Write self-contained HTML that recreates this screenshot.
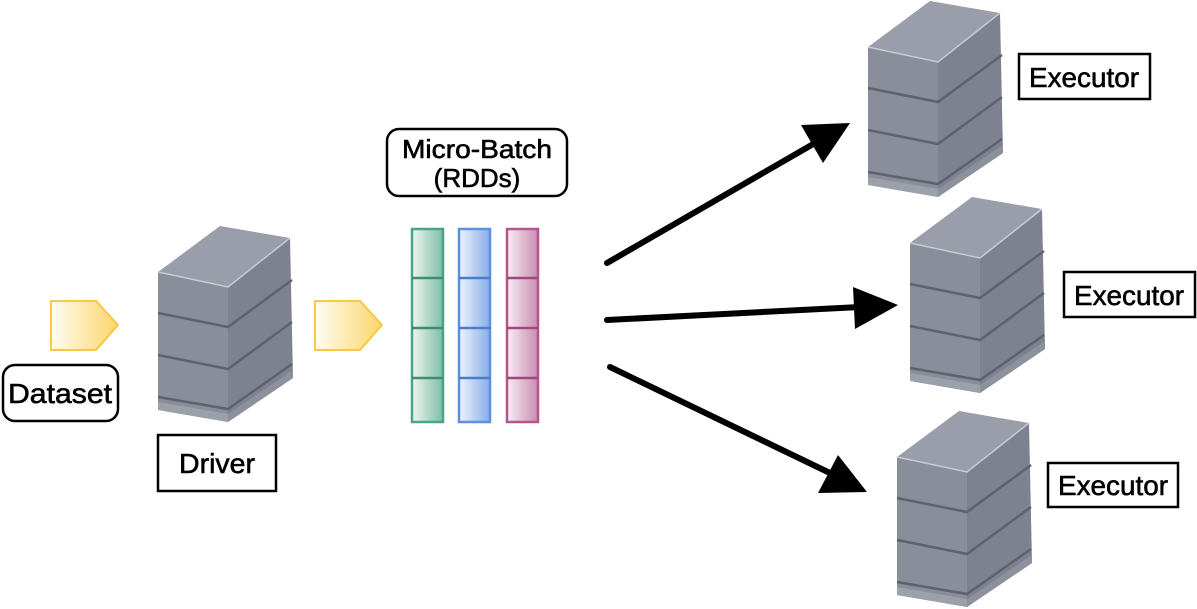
<!DOCTYPE html>
<html><head><meta charset="utf-8"><style>
html,body{margin:0;padding:0;background:#fff;width:1197px;height:609px;overflow:hidden}
text{font-family:"Liberation Sans",Arial,sans-serif;fill:#000;stroke:#000;stroke-width:0.6px}
</style></head><body>
<svg width="1197" height="609" viewBox="0 0 1197 609" xmlns="http://www.w3.org/2000/svg">
<defs>
<linearGradient id="yel" x1="0" x2="1" y1="0" y2="0"><stop offset="0" stop-color="#fffdf3"/><stop offset="1" stop-color="#fcd56a"/></linearGradient>
<linearGradient id="gr" x1="0" x2="1"><stop offset="0" stop-color="#eef7f3"/><stop offset="1" stop-color="#7dbda5"/></linearGradient>
<linearGradient id="bl" x1="0" x2="1"><stop offset="0" stop-color="#eef4fd"/><stop offset="1" stop-color="#87aee8"/></linearGradient>
<linearGradient id="pk" x1="0" x2="1"><stop offset="0" stop-color="#f8eef4"/><stop offset="1" stop-color="#c98cb0"/></linearGradient>
<g id="srv">
<polygon points="0,46 70,61 132,12 62,0" fill="#9a9eaa"/>
<polygon points="0,46 70,61 70,196 0,184" fill="#8a8e9b"/>
<polygon points="70,61 132,12 135,152 70,196" fill="#7e8290"/>
<polygon points="0,176 70,188 70,196 0,184" fill="#9ca0ab"/>
<polygon points="70,188 135,144 135,152 70,196" fill="#8d919c"/>
<polyline points="0,46 70,61 132,12" fill="none" stroke="#c8cbd2" stroke-width="1.5"/>
<g stroke="#5e626d" stroke-width="2.5" fill="none">
<polyline points="0,87 70,101 134,54"/>
<polyline points="0,129 70,143 134,96"/>
<polyline points="0,171 70,183 134,138"/>
</g>
</g>
</defs>
<use href="#srv" x="158" y="226"/>
<use href="#srv" x="868" y="1"/>
<use href="#srv" x="910" y="197"/>
<use href="#srv" x="897" y="411"/>
<polygon points="51,301 96,301 118,325 96,350 51,350" fill="url(#yel)" stroke="#f8c847" stroke-width="2"/>
<polygon points="315,301 360,301 382,325 360,350 315,350" fill="url(#yel)" stroke="#f8c847" stroke-width="2"/>
<g stroke-width="2.5">
<rect x="412" y="229" width="31" height="193" fill="url(#gr)" stroke="#4aa586"/>
<path d="M412 278h31M412 328h31M412 378h31" stroke="#3f8e72"/>
<rect x="459" y="229" width="31" height="193" fill="url(#bl)" stroke="#5d90e0"/>
<path d="M459 278h31M459 328h31M459 378h31" stroke="#4a7dcc"/>
<rect x="507" y="229" width="31" height="193" fill="url(#pk)" stroke="#b5558f"/>
<path d="M507 278h31M507 328h31M507 378h31" stroke="#a1477f"/>
</g>
<g stroke="#000" stroke-width="6" stroke-linecap="round">
<line x1="607" y1="263" x2="815" y2="143"/>
<line x1="607" y1="320" x2="860" y2="307"/>
<line x1="610" y1="367" x2="832" y2="474"/>
</g>
<polygon points="850,123 801,125 823,163" fill="#000"/>
<polygon points="898,305 853,287 855,329" fill="#000"/>
<polygon points="867,492 818,493 838,455" fill="#000"/>
<g fill="#fff" stroke="#000" stroke-width="2.5">
<rect x="3" y="365" width="115" height="56" rx="12"/>
<rect x="158" y="435" width="118" height="56"/>
<rect x="387" y="129" width="180" height="67" rx="12"/>
<rect x="1019" y="54" width="131" height="45"/>
<rect x="1064" y="272" width="131" height="45"/>
<rect x="1048" y="463" width="130" height="44"/>
</g>
<g font-size="28" text-anchor="middle">
<text x="60" y="403" textLength="104" lengthAdjust="spacingAndGlyphs">Dataset</text>
<text x="217" y="473" textLength="76" lengthAdjust="spacingAndGlyphs">Driver</text>
<text x="477" y="158" font-size="26" textLength="150" lengthAdjust="spacingAndGlyphs">Micro-Batch</text>
<text x="477" y="187" font-size="26">(RDDs)</text>
<text x="1084" y="87" textLength="110" lengthAdjust="spacingAndGlyphs">Executor</text>
<text x="1129" y="305" textLength="110" lengthAdjust="spacingAndGlyphs">Executor</text>
<text x="1113" y="495" textLength="110" lengthAdjust="spacingAndGlyphs">Executor</text>
</g>
</svg>
</body></html>
